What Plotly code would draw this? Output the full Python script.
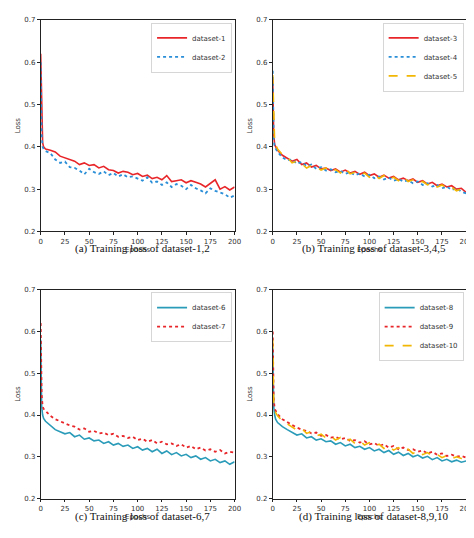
import plotly.graph_objects as go

epochs = [0, 1, 2, 3] + list(range(5, 201, 5))

d1 = [0.62,0.45,0.41,0.40, 0.395,0.392,0.388,0.378,0.374,0.370,0.366,0.358,0.362,0.356,0.358,0.350,0.354,0.346,0.344,0.338,0.342,0.340,0.334,0.337,0.330,0.333,0.325,0.328,0.322,0.332,0.318,0.320,0.322,0.315,0.320,0.316,0.312,0.305,0.313,0.322,0.300,0.306,0.298,0.305]
d2 = [0.60,0.43,0.40,0.395, 0.390,0.385,0.370,0.362,0.365,0.352,0.350,0.344,0.335,0.348,0.340,0.336,0.342,0.333,0.338,0.330,0.335,0.328,0.330,0.325,0.320,0.328,0.315,0.318,0.310,0.316,0.305,0.312,0.308,0.300,0.310,0.302,0.297,0.290,0.302,0.296,0.292,0.288,0.280,0.285]
d3 = [0.56,0.43,0.405,0.40, 0.392,0.380,0.372,0.366,0.370,0.358,0.362,0.352,0.356,0.348,0.350,0.344,0.348,0.340,0.345,0.338,0.342,0.335,0.340,0.332,0.336,0.328,0.333,0.326,0.330,0.322,0.326,0.320,0.324,0.316,0.320,0.312,0.316,0.308,0.312,0.305,0.308,0.300,0.302,0.292]
d4 = [0.58,0.42,0.40,0.395, 0.388,0.375,0.368,0.370,0.360,0.364,0.355,0.358,0.348,0.352,0.344,0.347,0.340,0.343,0.336,0.340,0.333,0.337,0.330,0.334,0.326,0.330,0.323,0.327,0.320,0.324,0.318,0.321,0.314,0.318,0.310,0.314,0.306,0.310,0.302,0.306,0.298,0.302,0.294,0.290]
d5 = [0.57,0.44,0.41,0.405, 0.395,0.382,0.376,0.362,0.366,0.360,0.350,0.356,0.352,0.345,0.350,0.340,0.346,0.338,0.350,0.336,0.340,0.334,0.338,0.328,0.335,0.325,0.332,0.322,0.328,0.320,0.330,0.318,0.322,0.314,0.318,0.310,0.315,0.305,0.310,0.302,0.305,0.296,0.300,0.288]
d6 = [0.58,0.42,0.40,0.392, 0.385,0.375,0.365,0.360,0.355,0.358,0.348,0.352,0.342,0.345,0.338,0.340,0.332,0.336,0.328,0.332,0.325,0.328,0.320,0.324,0.316,0.320,0.312,0.318,0.308,0.314,0.305,0.310,0.302,0.306,0.298,0.302,0.294,0.298,0.290,0.294,0.286,0.290,0.282,0.288]
d7 = [0.62,0.45,0.42,0.415, 0.410,0.398,0.390,0.385,0.380,0.375,0.372,0.365,0.368,0.360,0.362,0.356,0.358,0.352,0.355,0.348,0.350,0.345,0.348,0.340,0.343,0.336,0.340,0.332,0.336,0.330,0.332,0.326,0.330,0.322,0.326,0.318,0.322,0.315,0.318,0.312,0.316,0.308,0.312,0.310]
d8 = [0.56,0.42,0.40,0.39, 0.382,0.372,0.365,0.358,0.352,0.355,0.345,0.348,0.340,0.343,0.336,0.338,0.330,0.334,0.326,0.330,0.322,0.325,0.318,0.322,0.314,0.318,0.310,0.315,0.306,0.311,0.303,0.308,0.300,0.304,0.297,0.301,0.293,0.298,0.290,0.294,0.288,0.292,0.287,0.290]
d9 = [0.60,0.44,0.415,0.41, 0.402,0.390,0.382,0.376,0.370,0.365,0.362,0.356,0.358,0.350,0.352,0.346,0.348,0.342,0.345,0.338,0.340,0.334,0.337,0.330,0.333,0.326,0.330,0.322,0.326,0.318,0.322,0.316,0.318,0.312,0.315,0.308,0.312,0.305,0.308,0.302,0.305,0.300,0.302,0.298]
d10 = [0.58,0.43,0.41,0.405, 0.398,0.386,0.378,0.370,0.364,0.368,0.356,0.360,0.350,0.354,0.345,0.350,0.340,0.346,0.336,0.342,0.332,0.338,0.328,0.334,0.325,0.330,0.320,0.326,0.316,0.322,0.313,0.318,0.308,0.314,0.305,0.310,0.302,0.306,0.298,0.303,0.295,0.300,0.296,0.300]

captions = ["(a) Training loss of dataset-1,2", "(b) Training loss of dataset-3,4,5",
            "(c) Training loss of dataset-6,7", "(d) Training loss of dataset-8,9,10"]

RED, BLUE, ORANGE, TEAL = "#e8262a", "#2b8fd8", "#f2b705", "#2a9bb8"
styles = {"solid": dict(dash="solid", width=1.6), "dot": dict(dash="dot", width=1.8), "dash": dict(dash="dash", width=1.6)}

panels = [
    [("dataset-1", d1, RED, "solid"), ("dataset-2", d2, BLUE, "dot")],
    [("dataset-3", d3, RED, "solid"), ("dataset-4", d4, BLUE, "dot"), ("dataset-5", d5, ORANGE, "dash")],
    [("dataset-6", d6, TEAL, "solid"), ("dataset-7", d7, RED, "dot")],
    [("dataset-8", d8, TEAL, "solid"), ("dataset-9", d9, RED, "dot"), ("dataset-10", d10, ORANGE, "dash")],
]
xdom = [(0.066, 0.483), (0.565, 0.981), (0.066, 0.483), (0.565, 0.981)]
ydom = [(0.586, 0.985), (0.586, 0.985), (0.082, 0.476), (0.082, 0.476)]

fig = go.Figure()
layout = dict(width=474, height=538, margin=dict(l=0, r=0, t=0, b=0),
              paper_bgcolor="white", plot_bgcolor="white", annotations=[],
              font=dict(family="DejaVu Sans", size=7, color="#333"))
for i, series in enumerate(panels):
    n = "" if i == 0 else str(i + 1)
    lg = "legend" + n
    for name, vals, col, st in series:
        fig.add_trace(go.Scatter(x=epochs, y=vals, name=name, mode="lines",
                                 line=dict(color=col, **styles[st]),
                                 xaxis="x" + n, yaxis="y" + n, legend=lg))
    ax = dict(showline=True, mirror=True, linecolor="#222", linewidth=0.8, ticks="outside",
              ticklen=3, tickcolor="#222", showgrid=False, zeroline=False,
              tickfont=dict(size=7))
    layout["xaxis" + n] = dict(ax, domain=xdom[i], range=[0, 200], tickvals=list(range(0, 201, 25)),
                               anchor="y" + n, title=dict(text="Epochs", font=dict(size=7), standoff=2))
    layout["yaxis" + n] = dict(ax, domain=ydom[i], range=[0.2, 0.7], tickvals=[0.2, 0.3, 0.4, 0.5, 0.6, 0.7],
                               tickformat=".1f", anchor="x" + n,
                               title=dict(text="Loss", font=dict(size=7), standoff=2))
    layout[lg] = dict(x=xdom[i][1] - 0.005, y=ydom[i][1] - 0.005, xanchor="right", yanchor="top",
                      bgcolor="white", bordercolor="#ccc", borderwidth=0.8,
                      font=dict(size=7), tracegroupgap=0, itemwidth=30)
    cy = ydom[i][0] - 0.033
    layout["annotations"].append(dict(text=captions[i], x=(xdom[i][0] + xdom[i][1]) / 2 + 0.01, y=cy,
                                      xref="paper", yref="paper", showarrow=False,
                                      xanchor="center", yanchor="middle",
                                      font=dict(family="Liberation Serif", size=11, color="#111")))
fig.update_layout(**layout)
fig.write_html("out.html")
